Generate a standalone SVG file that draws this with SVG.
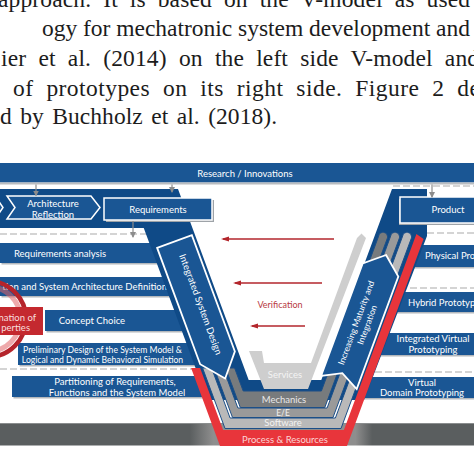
<svg xmlns="http://www.w3.org/2000/svg" width="474" height="474" viewBox="0 0 474 474">
<defs>
<style>
.para{font-family:"Liberation Serif","Times New Roman",serif;font-size:23.5px;fill:#1c1c1c}
.lbl{font-family:Lato,"Liberation Sans",sans-serif;font-size:9.5px;fill:#fff;text-anchor:middle}
.lbs{font-family:Lato,"Liberation Sans",sans-serif;font-size:8.6px;fill:#fff;text-anchor:middle}
.st{text-anchor:start}
.en{text-anchor:end}
.bar{fill:#1a5694}
.shadow{fill:#b4b8bc}
.box{fill:#1a5694;stroke:#fff;stroke-width:1.5}
.dash{stroke:#c6c6c6;stroke-width:1.5;stroke-dasharray:7 3;fill:none}
.garrow{stroke:#8c8c8c;stroke-width:1.2;fill:none;marker-end:url(#gah)}
.rarrow{stroke:#b3262c;stroke-width:1.5;fill:none;marker-end:url(#rah)}
.layer{stroke:#1c4f88;stroke-width:1}
</style>
<marker id="gah" markerWidth="6" markerHeight="6" refX="5" refY="3" orient="auto" markerUnits="userSpaceOnUse"><path d="M0,0 L6,3 L0,6 z" fill="#8c8c8c"/></marker>
<marker id="rah" markerWidth="8" markerHeight="6" refX="6" refY="3" orient="auto" markerUnits="userSpaceOnUse"><path d="M0,0.5 L8,3 L0,5.5 z" fill="#b3262c"/></marker>
<linearGradient id="bb" gradientUnits="userSpaceOnUse" x1="0" y1="0" x2="474" y2="0">
<stop offset="0" stop-color="#5a5e5f"/>
<stop offset="0.40" stop-color="#5a5e5f"/>
<stop offset="0.45" stop-color="#8e8e8e"/>
<stop offset="0.75" stop-color="#8e8e8e"/>
<stop offset="0.785" stop-color="#5a5e5f"/>
<stop offset="1" stop-color="#5a5e5f"/>
</linearGradient>
</defs>
<rect width="474" height="474" fill="#fff"/>

<g id="para" class="para" xml:space="preserve">
<text x="-2" y="7" word-spacing="6" textLength="472">approach. It is based on the V-model as used</text>
<text x="42" y="36" textLength="428">ogy for mechatronic system development and</text>
<text x="1" y="65.5" word-spacing="6.3" textLength="478">ier et al. (2014) on the left side V-model and</text>
<text x="13" y="95.5" word-spacing="6.6" textLength="467">of prototypes on its right side.  Figure 2 de</text>
<text x="0" y="124" word-spacing="2.5" textLength="277">d by Buchholz et al. (2018).</text>
</g>

<g id="research">
<rect x="0" y="163" width="474" height="19.5" class="bar"/>
<rect x="0" y="182.5" width="474" height="2" fill="#b9bcbf"/>
<text x="245" y="176.5" class="lbl">Research / Innovations</text>
</g>

<g id="separators">
<line x1="0" y1="234" x2="152" y2="234" class="dash"/>
<line x1="0" y1="369" x2="196" y2="369" class="dash"/>
<line x1="393" y1="186" x2="474" y2="186" class="dash"/>
<line x1="427" y1="233" x2="474" y2="233" class="dash"/>
<line x1="410" y1="288" x2="474" y2="288" class="dash"/>
<line x1="375" y1="372" x2="474" y2="372" class="dash"/>
</g>

<g id="baseline-bar">
<rect x="0" y="423" width="474" height="22.5" fill="url(#bb)"/>
<rect x="0" y="423" width="474" height="1" fill="#8a8d8e"/>
</g>

<g id="left-bars">
<g id="req-analysis">
<rect x="1.5" y="244.5" width="170" height="20" class="shadow"/>
<rect x="0" y="243" width="170" height="20" class="bar"/>
<text x="60" y="256.5" class="lbl">Requirements analysis</text>
</g>
<g id="arch-def">
<rect x="1.5" y="278.5" width="185" height="19" class="shadow"/>
<rect x="0" y="277" width="185" height="19" class="bar"/>
<text x="167" y="289.5" class="lbl en">tion and System Architecture Definition</text>
</g>
<g id="concept">
<rect x="46.5" y="311.5" width="150" height="21" class="shadow"/>
<rect x="45" y="310" width="150" height="21" class="bar"/>
<text x="92" y="324" class="lbl">Concept Choice</text>
</g>
<g id="preliminary">
<rect x="19.5" y="344.5" width="190" height="22" class="shadow"/>
<rect x="18" y="343" width="190" height="22" class="bar"/>
<text x="102.5" y="352.5" class="lbs">Preliminary Design of the System Model &amp;</text>
<text x="102.5" y="363" class="lbs">Logical and Dynamic Behavioral Simulation</text>
</g>
<g id="partitioning">
<rect x="13.5" y="377.5" width="200" height="21" class="shadow"/>
<rect x="12" y="376" width="200" height="21" class="bar"/>
<text x="115" y="384.5" class="lbl">Partitioning of Requirements,</text>
<text x="117" y="395.5" class="lbl">Functions and the System Model</text>
</g>
</g>

<g id="estimation">
<circle cx="-12" cy="319" r="38" fill="none" stroke="#b5242b" stroke-width="4.5"/>
<circle cx="-12" cy="319" r="32.5" fill="none" stroke="#e06468" stroke-width="5" opacity="0.55"/>
<rect x="-2" y="307" width="45" height="28" fill="#c4292f"/>
<text x="36" y="320.5" class="lbl en" style="fill:#f8dede">nation of</text>
<text x="30" y="331" class="lbl en" style="fill:#f8dede">perties</text>
</g>

<g id="right-bars">
<g id="physical">
<rect x="410" y="246.5" width="66" height="22" class="shadow"/>
<rect x="410" y="245" width="66" height="22" class="bar"/>
<text x="425" y="259" class="lbl st">Physical Prot</text>
</g>
<g id="hybrid">
<rect x="394" y="293.5" width="82" height="20" class="shadow"/>
<rect x="394" y="292" width="82" height="20" class="bar"/>
<text x="408" y="305.5" class="lbl st">Hybrid Prototypi</text>
</g>
<g id="integrated-virtual">
<rect x="378" y="334.5" width="98" height="22" class="shadow"/>
<rect x="378" y="333" width="98" height="22" class="bar"/>
<text x="433" y="341.5" class="lbl">Integrated Virtual</text>
<text x="433" y="353" class="lbl">Prototyping</text>
</g>
<g id="virtual-domain">
<rect x="362" y="378.5" width="114" height="21" class="shadow"/>
<rect x="362" y="377" width="114" height="21" class="bar"/>
<text x="422" y="385.5" class="lbl">Virtual</text>
<text x="422" y="396" class="lbl">Domain Prototyping</text>
</g>
</g>

<g id="v-band">
<path d="M0,189 L178,189 L243.5,366 L248.7,380 L321.3,380 L392,189 L427,189 L427,236 L364,400 L207.4,400 L143.75,228 L0,228 Z" fill="#0f4a87"/>
</g>

<g id="top-boxes">
<g id="prev-chevron">
<polygon points="-20,196 -5,196 3,207.5 -5,219 -20,219" class="box"/>
</g>
<g id="architecture-reflection">
<polygon points="7,196 91,196 100,207.5 91,219 7,219 15,207.5" class="box"/>
<text x="53" y="206.5" class="lbl">Architecture</text>
<text x="53" y="217.5" class="lbl">Reflection</text>
</g>
<g id="requirements">
<rect x="106" y="200" width="108" height="22" fill="#9ea3a8"/>
<rect x="104" y="198" width="108" height="22" class="box"/>
<text x="158" y="212.5" class="lbl">Requirements</text>
</g>
<g id="product">
<rect x="399" y="199" width="80" height="26" fill="#9ea3a8"/>
<rect x="400" y="197" width="80" height="26" class="box"/>
<text x="448" y="212.5" class="lbl">Product</text>
</g>
</g>

<g id="layers">
<g id="process-resources">
<polygon points="191.1,368 220,446 347,446 423.6,239 416.4,234 343.9,430 223.1,430 200.1,368" fill="#e8353b"/>
<text x="285" y="443" class="lbl" style="fill:#fcd4d4">Process &amp; Resources</text>
</g>
<g id="software">
<polygon points="202.6,368 225,428.5 341,428.5 411.8,237 410.5,233.5 407,232 403.5,233.5 402.3,237 335.4,418 230.1,418 211.6,368" fill="#b9b9b9" class="layer"/>
<text x="283" y="426" class="lbl" style="fill:#f2f2f2">Software</text>
</g>
<g id="ee">
<polygon points="214.1,368 232.5,417.5 333,417.5 399.8,237 398.5,233.5 395,232 391.5,233.5 390.3,237 327.1,408 237.9,408 223.1,368" fill="#9a9a9a" class="layer"/>
<text x="283" y="415.8" class="lbl" style="font-size:8.5px;fill:#f0f0f0">E/E</text>
</g>
<g id="mechanics">
<polygon points="225.6,368 240.3,407.5 324.8,407.5 387.8,237 386.5,233.5 383,232 379.5,233.5 378.3,237 321.4,391 243.2,391 234.6,368" fill="#787b7d" class="layer"/>
<text x="284" y="402.5" class="lbl" style="fill:#e8e8e8">Mechanics</text>
</g>
<g id="services">
<polygon points="249,351 262,351 264,363 311,363 357,238 361.5,233.5 366,238 308,389 264,389" fill="#cecece"/>
<text x="285" y="378" class="lbl" style="fill:#f4f4f4">Services</text>
</g>
</g>

<g id="integrated-system-design" transform="translate(174.5,241.5) rotate(-20.3)">
<polygon points="-18.5,0 18.5,0 18.5,124 0,146 -18.5,124" fill="#1a5694" stroke="#fff" stroke-width="1.8"/>
<text transform="rotate(90)" x="68" y="0.5" class="lbl">Integrated System Design</text>
</g>

<g id="increasing-maturity" transform="translate(380.5,270) rotate(20.3)">
<polygon points="0,-16 19,0 19,120 0,110 -19,120 -19,0" fill="#1a5694" stroke="#fff" stroke-width="1.8"/>
<text transform="rotate(-90)" x="-58" y="-1.5" class="lbs">Increasing Maturity and</text>
<text transform="rotate(-90)" x="-56" y="9.5" class="lbs">Integration</text>
</g>

<g id="connectors">
<path d="M36,184.5 L36,195.5" class="garrow"/>
<path d="M172,184.5 L172,192" class="garrow"/>
<path d="M133,221 L133,237" class="garrow"/>
<path d="M432,184.5 L432,197" class="garrow"/>
<path d="M334,239 L223,239" class="rarrow"/>
<path d="M322,283 L235,283" class="rarrow"/>
<path d="M305,326 L252,326" class="rarrow"/>
</g>

<g id="verification">
<text x="280" y="307.5" class="lbl" style="font-size:9px;fill:#b83a3f">Verification</text>
</g>
</svg>
